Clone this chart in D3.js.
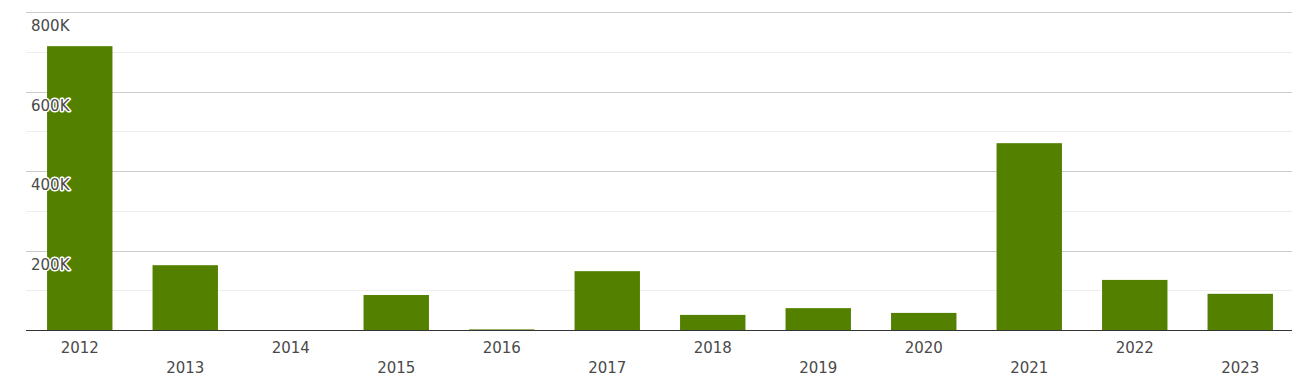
<!DOCTYPE html>
<html>
<head>
<meta charset="utf-8">
<script src="https://cdn.jsdelivr.net/npm/d3@7"></script>
<style>
  body { margin: 0; background: #fff; }
  text { font-family: "DejaVu Sans", sans-serif; font-size: 15px; fill: #4a4a4a; }
  .ylab { paint-order: stroke; stroke: #fff; stroke-width: 3px; stroke-linejoin: round; }
</style>
</head>
<body>
<svg id="chart" width="1293" height="384"></svg>
<script>
// data
var years = ['2012','2013','2014','2015','2016','2017','2018','2019','2020','2021','2022','2023']
var values = [714000, 163000, 0, 88000, 1500, 148000, 38000, 55000, 43000, 470000, 126000, 91000]
var majorTicks = [200000, 400000, 600000, 800000]
var minorTicks = [100000, 300000, 500000, 700000]

var svg = d3.select('#chart')
var plotLeft = 26, plotRight = 1292, plotTop = 12, plotBottom = 330

var x = d3.scaleBand().domain(years).range([plotLeft + 1, plotRight + 1]).paddingInner(0.38).paddingOuter(0.19)
var y = d3.scaleLinear().domain([0, 800000]).range([plotBottom, plotTop])

var fmt = function(v){ return (v / 1000) + 'K' }

// grid
svg.selectAll('.minor').data(minorTicks).enter().append('line')
  .attr('x1', plotLeft).attr('x2', plotRight)
  .attr('y1', function(d){ return Math.round(y(d)) + 0.5 })
  .attr('y2', function(d){ return Math.round(y(d)) + 0.5 })
  .attr('stroke', '#eee')

svg.selectAll('.major').data(majorTicks).enter().append('line')
  .attr('x1', plotLeft).attr('x2', plotRight)
  .attr('y1', function(d){ return Math.round(y(d)) + 0.5 })
  .attr('y2', function(d){ return Math.round(y(d)) + 0.5 })
  .attr('stroke', '#ccc')

// bars
svg.selectAll('.bar').data(values).enter().append('rect')
  .attr('x', function(d, i){ return x(years[i]) })
  .attr('width', x.bandwidth())
  .attr('y', function(d){ return y(d) })
  .attr('height', function(d){ return plotBottom - y(d) })
  .attr('fill', '#548000')

// baseline
svg.append('line')
  .attr('x1', plotLeft).attr('x2', plotRight)
  .attr('y1', plotBottom + 0.5).attr('y2', plotBottom + 0.5)
  .attr('stroke', '#333')

// y labels
svg.selectAll('.ylab').data(majorTicks).enter().append('text')
  .attr('class', 'ylab')
  .attr('x', 31)
  .attr('y', function(d){ return y(d) + 19 })
  .text(fmt)

// x labels, staggered
svg.selectAll('.xlab').data(years).enter().append('text')
  .attr('x', function(d){ return x(d) + x.bandwidth() / 2 })
  .attr('y', function(d, i){ return i % 2 == 0 ? 353 : 373 })
  .attr('text-anchor', 'middle')
  .text(function(d){ return d })
</script>
</body>
</html>
